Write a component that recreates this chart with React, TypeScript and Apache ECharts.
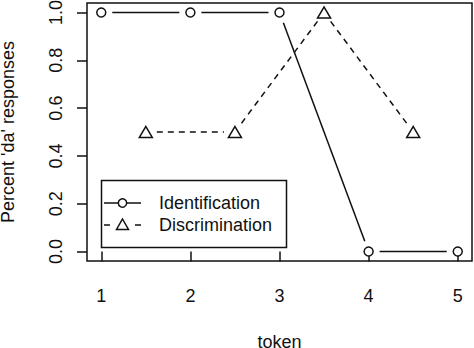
import React, { useEffect, useRef } from "react";
import * as echarts from "echarts";

const tokens = [1, 2, 3, 4, 5];
const identification = [1, 1, 1, 0, 0];
const discTokens = [1.5, 2.5, 3.5, 4.5];
const discrimination = [0.5, 0.5, 1, 0.5];
const xTicks = [1, 2, 3, 4, 5];
const yTicks = [0, 0.2, 0.4, 0.6, 0.8, 1.0];
const yTickLabels = ["0.0", "0.2", "0.4", "0.6", "0.8", "1.0"];

const FONT = "Liberation Sans, Arial, Helvetica, sans-serif";
const INK = "#111";

function gapLine(xs: number[], ys: number[], dash: number[] | null) {
  return {
    type: "custom",
    data: xs.map((x, i) => [x, ys[i]]),
    encode: { x: 0, y: 1 },
    z: 2,
    silent: true,
    renderItem: (params: any, api: any) => {
      const i = params.dataIndex;
      if (i >= xs.length - 1) return null;
      const p1 = api.coord([xs[i], ys[i]]);
      const p2 = api.coord([xs[i + 1], ys[i + 1]]);
      const dx = p2[0] - p1[0];
      const dy = p2[1] - p1[1];
      const len = Math.sqrt(dx * dx + dy * dy);
      const gap = 11;
      const ux = dx / len;
      const uy = dy / len;
      return {
        type: "line",
        shape: {
          x1: p1[0] + ux * gap,
          y1: p1[1] + uy * gap,
          x2: p2[0] - ux * gap,
          y2: p2[1] - uy * gap,
        },
        style: { stroke: INK, lineWidth: 1.5, lineDash: dash || undefined, fill: null },
      };
    },
  };
}

export default function App() {
  const ref = useRef<HTMLDivElement>(null);
  useEffect(() => {
    if (!ref.current) return;
    const chart = echarts.init(ref.current, null, { renderer: "svg" });
    const option: any = {
      animation: false,
      backgroundColor: "#fff",
      grid: {
        left: 87,
        top: 3,
        right: 2,
        bottom: 87,
        show: true,
        borderColor: INK,
        borderWidth: 1.5,
        backgroundColor: "transparent",
        containLabel: false,
        outerBoundsMode: "none",
      },
      xAxis: {
        type: "value",
        min: 0.84,
        max: 5.16,
        name: "token",
        nameLocation: "middle",
        nameGap: 72,
        nameTextStyle: { fontFamily: FONT, fontSize: 18, color: INK },
        axisLine: { show: false },
        splitLine: { show: false },
        axisTick: {
          show: true,
          length: 10,
          customValues: xTicks,
          lineStyle: { color: INK, width: 1.5 },
        },
        axisLabel: {
          customValues: xTicks,
          margin: 26,
          fontFamily: FONT,
          fontSize: 18,
          color: INK,
          formatter: (v: number) => String(v),
        },
      },
      yAxis: {
        type: "value",
        min: -0.04,
        max: 1.04,
        name: "Percent 'da' responses",
        nameLocation: "middle",
        nameGap: 70,
        nameRotate: 90,
        nameTextStyle: { fontFamily: FONT, fontSize: 18, color: INK },
        axisLine: { show: false },
        splitLine: { show: false },
        axisTick: {
          show: true,
          length: 10,
          customValues: yTicks,
          lineStyle: { color: INK, width: 1.5 },
        },
        axisLabel: {
          customValues: yTicks,
          rotate: 90,
          margin: 22,
          fontFamily: FONT,
          fontSize: 18,
          color: INK,
          formatter: (v: number) => {
            const idx = yTicks.findIndex((t) => Math.abs(t - v) < 1e-6);
            return idx >= 0 ? yTickLabels[idx] : "";
          },
        },
      },
      series: [
        gapLine(tokens, identification, null),
        gapLine(discTokens, discrimination, [6, 5]),
        {
          type: "scatter",
          name: "Identification",
          data: tokens.map((x, i) => [x, identification[i]]),
          symbol: "circle",
          symbolSize: 9,
          z: 3,
          itemStyle: { color: "#fff", borderColor: INK, borderWidth: 1.5, opacity: 1 },
        },
        {
          type: "scatter",
          name: "Discrimination",
          data: discTokens.map((x, i) => [x, discrimination[i]]),
          symbol: "triangle",
          symbolSize: [13, 11],
          z: 3,
          itemStyle: { color: "#fff", borderColor: INK, borderWidth: 1.5, opacity: 1 },
        },
      ],
      graphic: [
        {
          type: "rect",
          shape: { x: 101.5, y: 180.5, width: 185, height: 67 },
          style: { fill: "#fff", stroke: INK, lineWidth: 1.5 },
          z: 10,
        },
        {
          type: "line",
          shape: { x1: 104, y1: 203, x2: 141, y2: 203 },
          style: { stroke: INK, lineWidth: 1.5 },
          z: 11,
        },
        {
          type: "circle",
          shape: { cx: 122.5, cy: 203, r: 4.2 },
          style: { fill: "#fff", stroke: INK, lineWidth: 1.5 },
          z: 12,
        },
        {
          type: "line",
          shape: { x1: 104, y1: 225, x2: 110, y2: 225 },
          style: { stroke: INK, lineWidth: 1.5 },
          z: 11,
        },
        {
          type: "line",
          shape: { x1: 135, y1: 225, x2: 141, y2: 225 },
          style: { stroke: INK, lineWidth: 1.5 },
          z: 11,
        },
        {
          type: "polygon",
          shape: { points: [[122.5, 219], [128.5, 229.5], [116.5, 229.5]] },
          style: { fill: "#fff", stroke: INK, lineWidth: 1.5 },
          z: 12,
        },
        {
          type: "text",
          x: 159,
          y: 203,
          style: {
            text: "Identification",
            fontFamily: FONT,
            fontSize: 18,
            fill: INK,
            verticalAlign: "middle",
            align: "left",
          },
          z: 12,
        },
        {
          type: "text",
          x: 159,
          y: 225,
          style: {
            text: "Discrimination",
            fontFamily: FONT,
            fontSize: 18,
            fill: INK,
            verticalAlign: "middle",
            align: "left",
          },
          z: 12,
        },
      ],
    };
    chart.setOption(option);
    return () => chart.dispose();
  }, []);
  return (
    <div
      ref={ref}
      style={{ position: "fixed", left: 0, top: 0, width: 474, height: 348, background: "#fff" }}
    />
  );
}
